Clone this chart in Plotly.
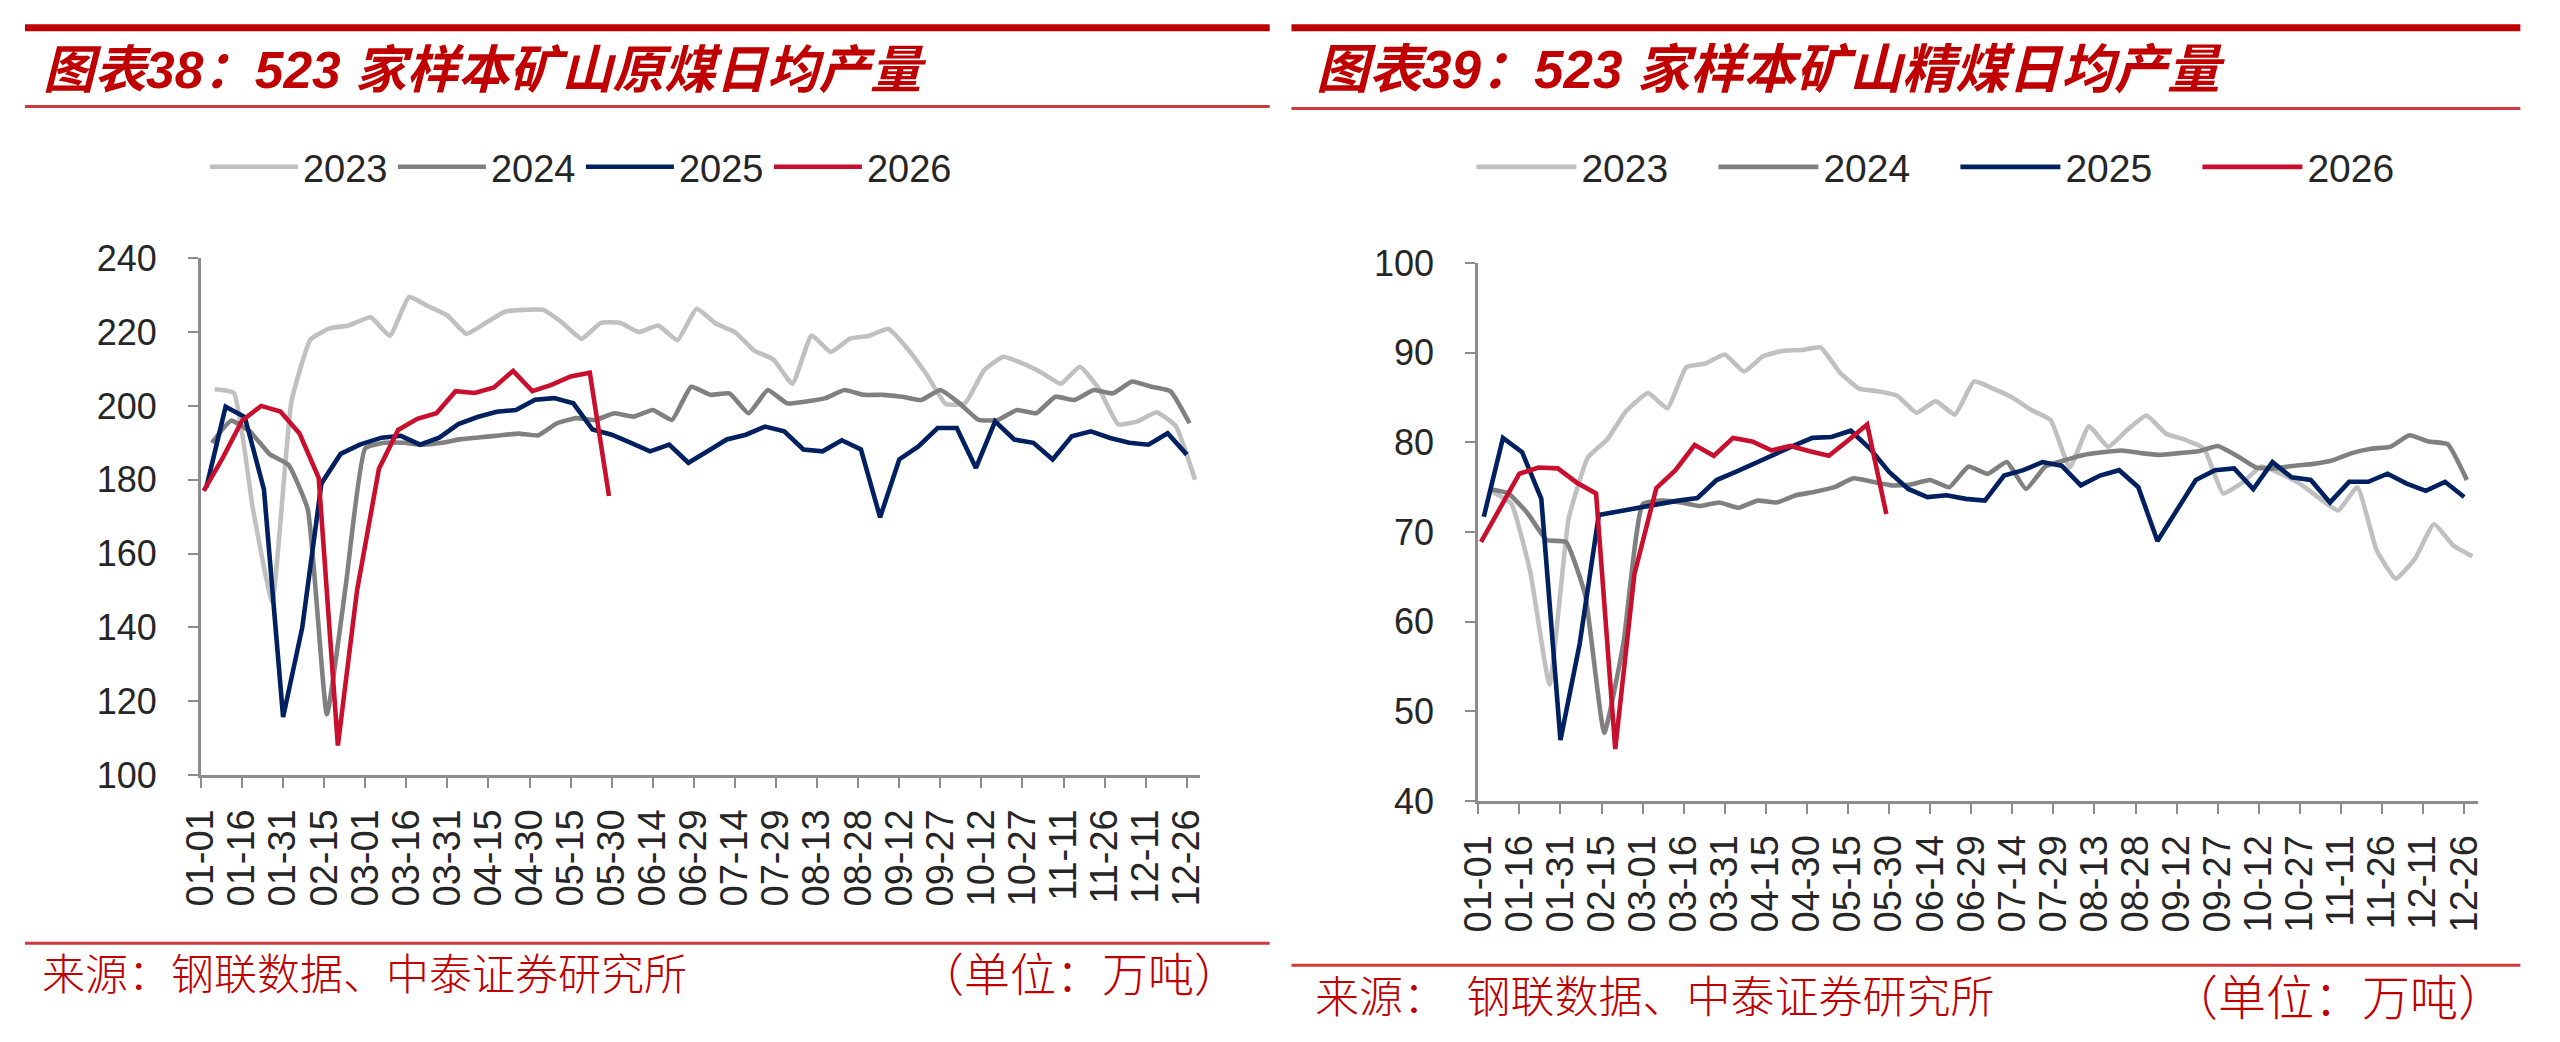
import plotly.graph_objects as go

# ---------------- data ----------------
# weekly observation dates (MM-DD), plotted on one common calendar axis
DATES_2023 = ["01-06","01-13","01-20","01-27","02-03","02-10","02-17","02-24","03-03","03-10","03-17","03-24","03-31",
              "04-07","04-14","04-21","04-28","05-05","05-12","05-19","05-26","06-02","06-09","06-16","06-23","06-30",
              "07-07","07-14","07-21","07-28","08-04","08-11","08-18","08-25","09-01","09-08","09-15","09-22","09-29",
              "10-06","10-13","10-20","10-27","11-03","11-10","11-17","11-24","12-01","12-08","12-15","12-22","12-29"]
DATES_2024 = ["01-05","01-12","01-19","01-26","02-02","02-09","02-16","02-23","03-01","03-08","03-15","03-22","03-29",
              "04-05","04-12","04-19","04-26","05-03","05-10","05-17","05-24","05-31","06-07","06-14","06-21","06-28",
              "07-05","07-12","07-19","07-26","08-02","08-09","08-16","08-23","08-30","09-06","09-13","09-20","09-27",
              "10-04","10-11","10-18","10-25","11-01","11-08","11-15","11-22","11-29","12-06","12-13","12-20","12-27"]
DATES_2025 = ["01-03","01-10","01-17","01-24","01-31","02-07","02-14","02-21","02-28","03-07","03-14","03-21","03-28",
              "04-04","04-11","04-18","04-25","05-02","05-09","05-16","05-23","05-30","06-06","06-13","06-20","06-27",
              "07-04","07-11","07-18","07-25","08-01","08-08","08-15","08-22","08-29","09-05","09-12","09-19","09-26",
              "10-03","10-10","10-17","10-24","10-31","11-07","11-14","11-21","11-28","12-05","12-12","12-19","12-26"]
DATES_2026 = ["01-02","01-09","01-16","01-23","01-30","02-06","02-13","02-20","02-27","03-06","03-13","03-20","03-27",
              "04-03","04-10","04-17","04-24","05-01","05-08","05-15","05-22","05-29"]

# 原煤日均产量 (万吨)
RAW_2023 = [204.5, 203.5, 172, 147, 201, 218, 221, 221.8, 224, 219, 229.5, 227, 224.5,
            219.5, 222.5, 225.5, 226, 226, 222.5, 218.2, 222.5, 222.5, 220, 221.8, 217.8, 226.3,
            222.3, 220, 215, 212.6, 206, 219.1, 214.6, 218.2, 219, 220.9, 215.5, 208.5, 200.5,
            200.7, 209.7, 213.3, 211.5, 209, 206, 210.6, 204.5, 195, 195.8, 198.3, 194.5, 180]
RAW_2024 = [190, 196, 193, 187, 184, 172, 116.5, 152, 188.5, 190, 190, 189.5, 190,
            191, 191.5, 192, 192.5, 192, 195.3, 196.7, 196.2, 198, 197.1, 198.9, 196.2, 205.2,
            203, 203.4, 198, 204.3, 200.7, 201.2, 202.1, 204.3, 203, 203, 202.5, 201.6, 204.3,
            200.7, 196.2, 196.2, 198.9, 198, 202.5, 201.6, 204.3, 203.4, 206.6, 205.2, 204, 195.3]
RAW_2025 = [178, 199.8, 197, 177.4, 115.7, 140, 179, 187, 189.5, 191.4, 191.9, 189.5, 191.4,
            195.1, 197, 198.4, 198.9, 201.7, 202.1, 200.7, 193.6, 192.2, 190, 187.7, 189.5, 184.6,
            187.7, 190.9, 192.2, 194.4, 193.1, 188.2, 187.7, 190.7, 188.2, 169.8, 185.5, 189, 194,
            194, 183.2, 195.8, 190.9, 190, 185.5, 191.8, 193.1, 191.3, 190, 189.5, 192.6, 186.8]
RAW_2026 = [177, 186, 196, 200, 198.5, 192.5, 180.5, 108, 150, 183, 193.5, 196.5, 198,
            204, 203.5, 205, 209.5, 204, 205.7, 208, 209, 175.6]

# 精煤日均产量 (万吨)
CLEAN_2023 = [74.5, 73.2, 65.5, 53, 71.5, 78.3, 80.3, 83.5, 85.5, 83.8, 88.4, 88.8, 89.8,
              87.9, 89.6, 90.2, 90.3, 90.6, 87.8, 86, 85.7, 85.2, 83.3, 84.6, 83.1, 86.8,
              86, 85, 83.6, 82.5, 77.2, 81.8, 79.5, 81.4, 83, 81, 80.3, 79.3, 74.3,
              75.5, 77.3, 76.5, 75.4, 73.8, 72.4, 75, 68, 64.8, 67, 70.9, 68.5, 67.3]
CLEAN_2024 = [74.8, 74.3, 72.1, 69.1, 68.9, 63, 47.6, 57.6, 73.1, 73.5, 73.3, 72.9, 73.3,
              72.7, 73.5, 73.3, 74.1, 74.5, 75, 76, 75.6, 75.2, 75.3, 75.8, 75, 77.3,
              76.5, 77.8, 74.8, 77.3, 78, 78.6, 78.9, 79.1, 78.8, 78.6, 78.8, 79, 79.6,
              78.5, 77.2, 77.1, 77.4, 77.6, 78, 78.8, 79.3, 79.5, 80.8, 80.1, 79.8, 75.8]
CLEAN_2025 = [71.7, 80.5, 78.9, 73.7, 46.8, 57.5, 71.9, 72.3, 72.7, 73.2, 73.5, 73.8, 75.8,
              76.7, 77.7, 78.7, 79.6, 80.5, 80.6, 81.3, 79.3, 76.7, 74.8, 73.9, 74.1, 73.7,
              73.5, 76.3, 76.9, 77.8, 77.4, 75.2, 76.3, 76.9, 75, 69, 72.4, 75.8, 76.9,
              77.1, 74.8, 77.8, 76.1, 75.8, 73.3, 75.6, 75.6, 76.5, 75.4, 74.6, 75.6, 73.9]
CLEAN_2026 = [68.9, 72.8, 76.5, 77.2, 77.1, 75.5, 74.3, 45.8, 65.3, 74.9, 76.9, 79.7, 78.5,
              80.5, 80.1, 79.1, 79.6, 79, 78.5, 80.2, 82, 72]

YEARS = ["2023", "2024", "2025", "2026"]
TICK_LABELS = ["01-01","01-16","01-31","02-15","03-01","03-16","03-31","04-15","04-30","05-15","05-30",
               "06-14","06-29","07-14","07-29","08-13","08-28","09-12","09-27","10-12","10-27",
               "11-11","11-26","12-11","12-26"]

LEFT_TITLE = "图表38：523 家样本矿山原煤日均产量"
RIGHT_TITLE = "图表39：523 家样本矿山精煤日均产量"
SOURCE_L = "来源：钢联数据、中泰证券研究所"
SOURCE_R = "来源：  钢联数据、中泰证券研究所"
UNIT = "（单位：万吨）"

# ---------------- styling ----------------
W, H = 2560, 1042
COLORS = {"2023": "#C0C0C0", "2024": "#808080", "2025": "#002060", "2026": "#C8102E"}
SHAPE = {"2023": "spline", "2024": "spline", "2025": "linear", "2026": "linear"}
RED = "#C00000"
THIN_RED = "#D03A3A"
AXIS = "#8C8C8C"
TXT = "#262626"
NUM_FONT = "Liberation Sans, Arial, sans-serif"
CJK_FONT = "Noto Sans CJK SC"
AXIS_YEAR = "2024-"   # common (leap) calendar year used for the x axis


def px(x):
    return x / W


def py(y):
    return 1 - y / H


fig = go.Figure()

series = [
    ("x", "y", "legend", [DATES_2023, DATES_2024, DATES_2025, DATES_2026], [RAW_2023, RAW_2024, RAW_2025, RAW_2026]),
    ("x2", "y2", "legend2", [DATES_2023, DATES_2024, DATES_2025, DATES_2026], [CLEAN_2023, CLEAN_2024, CLEAN_2025, CLEAN_2026]),
]
for xa, ya, lg, dates, vals in series:
    for yr, d, v in zip(YEARS, dates, vals):
        fig.add_trace(go.Scatter(
            x=[AXIS_YEAR + s for s in d], y=v, name=yr, mode="lines",
            line=dict(color=COLORS[yr], width=4.6, shape=SHAPE[yr], smoothing=0.4),
            xaxis=xa, yaxis=ya, legend=lg, hoverinfo="skip"))

tickvals = [AXIS_YEAR + t for t in TICK_LABELS]
xcommon = dict(type="date", range=[AXIS_YEAR + "01-01", AXIS_YEAR + "12-31"],
               tickmode="array", tickvals=tickvals, ticktext=TICK_LABELS,
               tickangle=-90, ticks="outside", ticklen=10, tickwidth=2, tickcolor=AXIS,
               showline=True, linecolor=AXIS, linewidth=3, showgrid=False, zeroline=False,
               tickfont=dict(size=38, family=NUM_FONT, color=TXT), ticklabelstandoff=6,
               fixedrange=True)
ycommon = dict(ticks="outside", ticklen=10, tickwidth=2, tickcolor=AXIS,
               showline=True, linecolor=AXIS, linewidth=3, showgrid=False, zeroline=False,
               tickfont=dict(size=36, family=NUM_FONT, color=TXT), ticklabelstandoff=24,
               fixedrange=True)

legcommon = dict(orientation="h", yanchor="middle", xanchor="left",
                 bgcolor="rgba(0,0,0,0)",
                 entrywidthmode="pixels", itemclick=False, itemdoubleclick=False)

fig.update_layout(
    width=W, height=H, margin=dict(l=0, r=0, t=0, b=0),
    paper_bgcolor="white", plot_bgcolor="white", showlegend=True,
    xaxis=dict(xcommon, domain=[px(181), px(1192)], anchor="y"),
    yaxis=dict(ycommon, domain=[py(786), py(248)], range=[100, 240], tick0=100, dtick=20, anchor="x"),
    xaxis2=dict(xcommon, domain=[px(1473), px(2484)], anchor="y2"),
    yaxis2=dict(ycommon, domain=[py(813), py(253)], range=[40, 100], tick0=40, dtick=10, anchor="x2"),
    legend=dict(legcommon, x=px(185), y=py(153), itemwidth=88, entrywidth=85,
                font=dict(size=38, family=NUM_FONT, color=TXT)),
    legend2=dict(legcommon, x=px(1466), y=py(153), itemwidth=100, entrywidth=127,
                 font=dict(size=39, family=NUM_FONT, color=TXT)),
)

shapes = []
for x0, x1, yt, yb in [(3, 1262, 90, 961), (1284, 2527, 92, 984)]:
    shapes.append(dict(type="line", xref="paper", yref="paper", x0=px(x0), x1=px(x1), y0=py(8), y1=py(8),
                       line=dict(color=RED, width=7)))
    shapes.append(dict(type="line", xref="paper", yref="paper", x0=px(x0), x1=px(x1), y0=py(yt), y1=py(yt),
                       line=dict(color=THIN_RED, width=3)))
    shapes.append(dict(type="line", xref="paper", yref="paper", x0=px(x0), x1=px(x1), y0=py(yb), y1=py(yb),
                       line=dict(color=THIN_RED, width=3)))
fig.update_layout(shapes=shapes)

ann = []
for txt, x, size in [(LEFT_TITLE, 19, 51.5), (RIGHT_TITLE, 1307, 53)]:
    ann.append(dict(text="<b><i>" + txt + "</i></b>", xref="paper", yref="paper", x=px(x), y=py(52),
                    xanchor="left", yanchor="middle", showarrow=False,
                    font=dict(size=size, color=RED, family=NUM_FONT + ", " + CJK_FONT)))
for txt, x, y, anchor, size in [(SOURCE_L, 18, 990, "left", 43), (UNIT, 1234, 990, "right", 46),
                                (SOURCE_R, 1306, 1014, "left", 44), (UNIT, 2514, 1014, "right", 48)]:
    ann.append(dict(text=txt, xref="paper", yref="paper", x=px(x), y=py(y), xanchor=anchor, yanchor="middle",
                    showarrow=False, font=dict(size=size, color=RED, family=CJK_FONT, weight=300)))
fig.update_layout(annotations=ann)

fig.write_html("out.html", config={"displayModeBar": False, "staticPlot": True},
               post_script="document.body.style.margin='0';document.body.style.overflow='hidden';")
